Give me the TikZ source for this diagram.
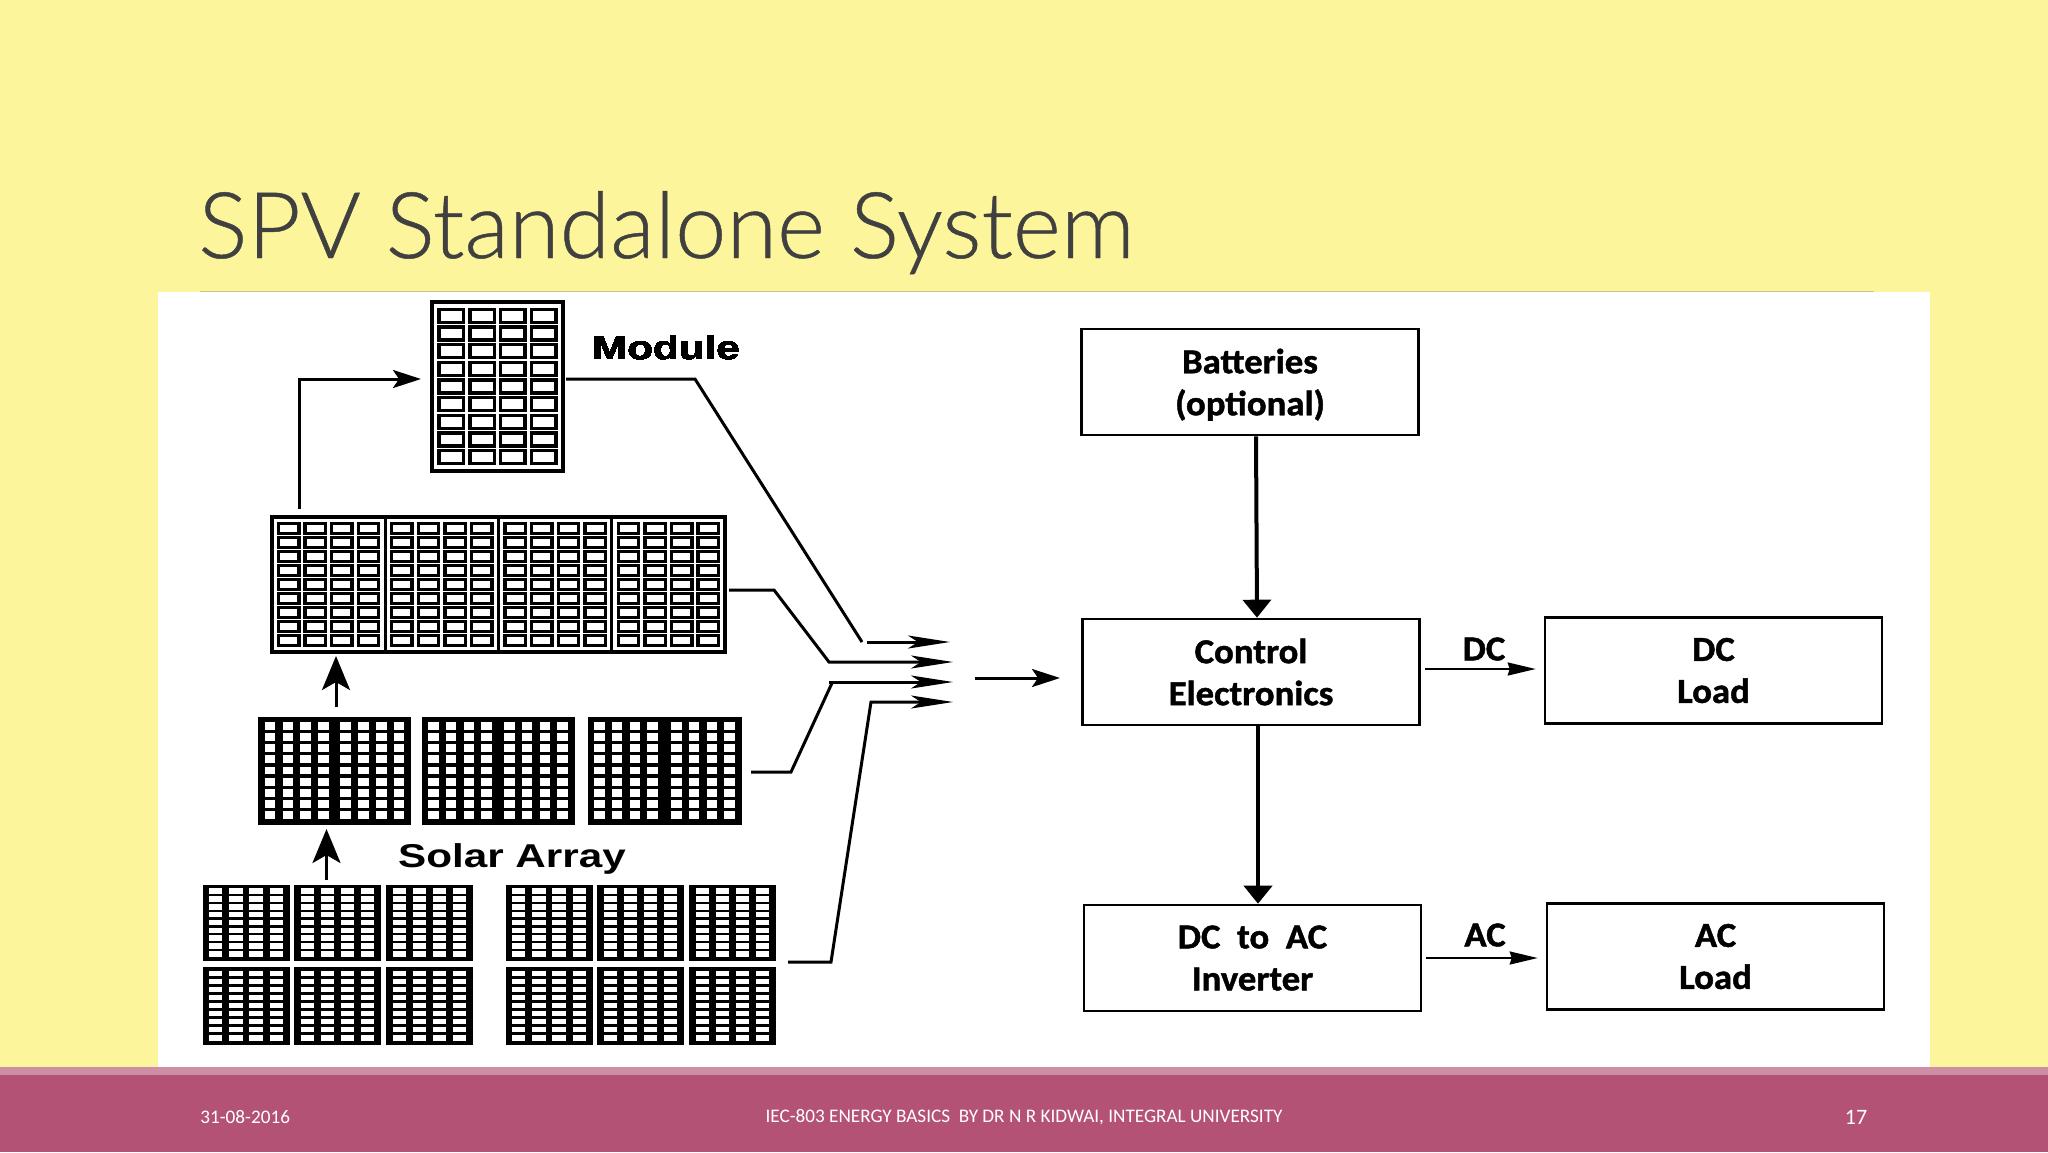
\documentclass[tikz,border=0pt]{standalone}
\usepackage{fontspec}
\usepackage{tikz}
\usetikzlibrary{arrows.meta}
\setmainfont{Carlito}
\newfontfamily\labelfont[FakeStretch=1.28]{Liberation Sans Bold}
\newfontfamily\blockfont[FakeBold=1.3,FakeStretch=1.05]{Carlito Bold}
\newfontfamily\titlefont[FakeBold=0.5]{Lato Light}
\definecolor{slidebg}{HTML}{FDF59B}
\definecolor{footerbg}{HTML}{B35274}
\definecolor{footerband}{HTML}{CE8FA6}
\definecolor{titlegray}{HTML}{404040}
\definecolor{rulecol}{HTML}{C9C48A}
% name, cx, cy, w, h, cols, frame style, rows of cells as tone/fx/fy
\newcommand{\sunpanel}[8]{
  \node[#7, minimum width={#4*0.5pt}, minimum height={#5*0.5pt}] (#1) at (#2,#3) {};
  \foreach \tone/\fx/\fy in {#8} {
    \pgfmathsetmacro\ondash{\fx*#4/#6*0.5}
    \pgfmathsetmacro\offdash{(.94-\fx)*#4/#6*0.5}
    \pgfmathsetmacro\rowh{\fy*#5/9*0.5}
    \pgfmathsetmacro\rowx{#2-#6/2*.94*#4/#6+(.94-\fx)*#4/#6/2}
    \pgfmathsetmacro\rowlen{#6*.94*#4/#6-(.94-\fx)*#4/#6}
    \draw[\tone, line width=\rowh pt, dash pattern=on \ondash pt off \offdash pt]
      foreach \rowno in {1,...,9} { (\rowx,{#3+(\rowno-5)*.94*#5/9}) -- ++(\rowlen,0) };
  }
}
\begin{document}
\begin{tikzpicture}[x=0.5pt,y=-0.5pt]
        %style
        \tikzset{block/.style = {shape=rectangle, draw, line width=1.3pt, minimum width=168.5pt, minimum height=53pt, align=center, inner sep=0pt, font=\blockfont\fontsize{17.5}{21}\selectfont}}
        \tikzset{tag/.style = {font=\labelfont\fontsize{16.5}{20}\selectfont, inner sep=0pt}}
        \tikzset{flowtag/.style = {font=\blockfont\fontsize{17.5}{21}\selectfont, inner sep=0pt}}
        \tikzset{footer/.style = {text=white, font=\fontsize{9.6}{11}\selectfont, inner sep=0pt}}
        \tikzset{whitepanel/.style = {shape=rectangle, draw, fill=white, line width=1.6pt, inner sep=0pt, outer sep=0pt}}
        \tikzset{blackpanel/.style = {shape=rectangle, draw, fill=black, line width=0.5pt, inner sep=0pt, outer sep=0pt}}
        \tikzset{line/.style = {line width=1.5pt}}
        \tikzset{feed/.style = {line width=1.5pt, -{Stealth[length=21pt,width=6.5pt,inset=5pt]}}}
        \tikzset{flow/.style = {line width=1.5pt, -{Stealth[length=14pt,width=9pt,inset=3pt]}}}
        \tikzset{loadflow/.style = {line width=1pt, -{Stealth[length=14pt,width=6.5pt,inset=1pt]}}}
        \tikzset{stepup/.style = {line width=1.5pt, -{Stealth[length=17pt,width=14pt,inset=4pt]}}}
        \tikzset{heavy/.style = {line width=2pt, -{Stealth[length=9pt,width=14pt,inset=0pt]}}}
        %slide
        \fill[slidebg] (0,0) rectangle (2048,1152);
        \fill[footerband] (0,1067) rectangle (2048,1075);
        \fill[footerbg] (0,1075) rectangle (2048,1152);
        \draw[rulecol, line width=0.5pt] (200,291) -- (1874,291);
        \fill[white] (158,292) rectangle (1930,1067);
        \node[anchor=base west, inner sep=0pt, text=titlegray, font=\titlefont\fontsize{46}{56}\selectfont] (title) at (198,258) {SPV Standalone System};
        \node[footer, anchor=west] (date)   at (200,1117)  {31-08-2016};
        \node[footer]              (course) at (1024,1117) {IEC-803 ENERGY BASICS\ \ BY DR N R KIDWAI, INTEGRAL UNIVERSITY};
        \node[footer, font=\fontsize{11}{13}\selectfont] (page) at (1856,1117) {17};
        %panels
        \sunpanel{module}{497.5}{386.5}{131}{169}{4}{whitepanel}{black/.86/.88,white/.64/.52}
        \foreach \cx/\nm in {328.6/a,441.9/b,555.1/c,668.4/d}
          \sunpanel{string\nm}{\cx}{584.5}{113.25}{135}{4}{whitepanel}{black/.84/.86,white/.60/.46}
        \foreach \cx/\nm in {296.75/a,372.25/b,460/c,536/d,626/e,703/f}
          \sunpanel{group\nm}{\cx}{770.5}{76}{107}{4}{blackpanel}{white/.56/.66}
        \foreach \cx/\nm in {246/a,337.5/b,429.5/c,549/d,640.5/e,732.5/f}
          \foreach \cy/\ph/\rw in {922.5/75/u,1005.5/77/v}
            \sunpanel{array\nm\rw}{\cx}{\cy}{86}{\ph}{4}{blackpanel}{white/.62/.66}
        \node[tag] (modulelabel) at (666,348) {Module};
        \node[tag] (arraylabel)  at (512,859) {Solar Array};
        %blocks
        \node[block] (batteries) at (1250,382)    {\rule{0pt}{15pt}Batteries\\(optional)};
        \node[block] (control)   at (1251,672)    {Control\\Electronics};
        \node[block] (dcload)    at (1713.5,670.5) {DC\\Load};
        \node[block] (inverter)  at (1252.5,958)  {DC~ to~ AC\\Inverter};
        \node[block] (acload)    at (1715.5,956.5) {AC\\Load};
        \node[flowtag] (dclabel) at (1484,649) {DC};
        \node[flowtag] (aclabel) at (1485,935) {AC};
        %free ends
        \coordinate (up1)  at (299,509);
        \coordinate (up2)  at (299,379);
        \coordinate (up3)  at (421,379);
        \coordinate (m1)   at (566,379);
        \coordinate (m2)   at (695,379);
        \coordinate (m3)   at (862,642);
        \coordinate (m4)   at (867,642);
        \coordinate (m5)   at (950,642);
        \coordinate (s1)   at (729,590);
        \coordinate (s2)   at (774,590);
        \coordinate (s3)   at (829,662);
        \coordinate (s4)   at (953,662);
        \coordinate (g1)   at (751,772);
        \coordinate (g2)   at (791,772);
        \coordinate (g3)   at (832,683);
        \coordinate (g4)   at (829,682);
        \coordinate (g5)   at (953,682);
        \coordinate (a1)   at (788,962);
        \coordinate (a2)   at (831,962);
        \coordinate (a3)   at (871,702);
        \coordinate (a4)   at (953,702);
        \coordinate (in1)  at (975,678);
        \coordinate (in2)  at (1060,678);
        \coordinate (st1)  at (336,707);
        \coordinate (st2)  at (336,656);
        \coordinate (ar1)  at (326.5,880);
        \coordinate (ar2)  at (326.5,829);
        %connectors
        \draw [flow] (up1) -- (up2) -- (up3);
        \draw [line] (m1) -- (m2) -- (m3);
        \draw [feed] (m4) to (m5);
        \draw [feed] (s1) -- (s2) -- (s3) -- (s4);
        \draw [line] (g1) -- (g2) -- (g3);
        \draw [feed] (g4) to (g5);
        \draw [feed] (a1) -- (a2) -- (a3) -- (a4);
        \draw [flow] (in1) to (in2);
        \draw [stepup] (st1) to (st2);
        \draw [stepup] (ar1) to (ar2);
        \draw [heavy] ([xshift=3pt]batteries.south) to ([xshift=3pt]control.north);
        \draw [heavy] ([xshift=3.5pt]control.south) to ([xshift=2.75pt]inverter.north);
        \draw [loadflow, shorten <=2pt, shorten >=4pt] ([yshift=1.5pt]control.east) to ([yshift=0.75pt]dcload.west);
        \draw [loadflow, shorten <=2pt, shorten >=4pt] (inverter.east) to (inverter.east -| acload.west);
\end{tikzpicture}
\end{document}
